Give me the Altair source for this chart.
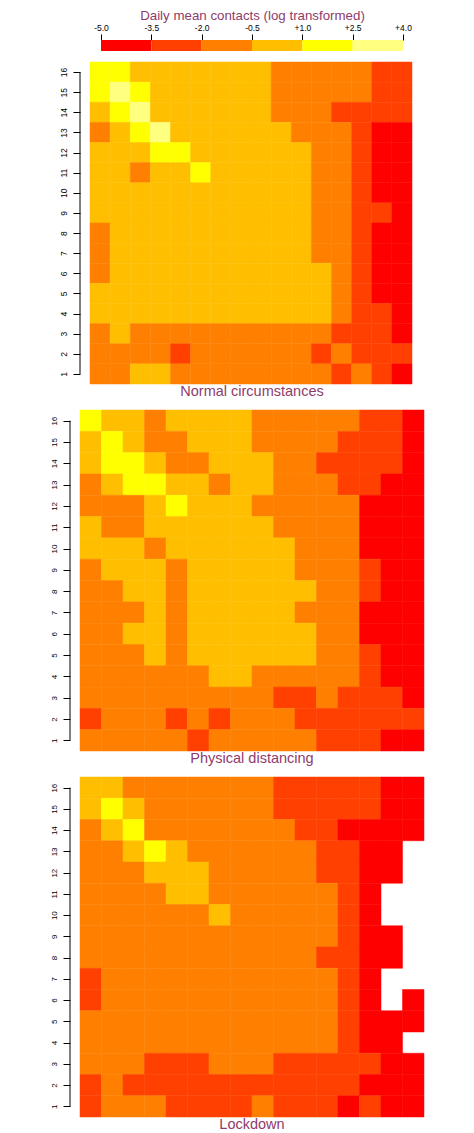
import altair as alt
import pandas as pd

# bin-level estimates of the log-transformed daily mean contacts
R, RO, O, G, Y, LY = -4.3, -2.8, -1.3, 0.3, 1.7, 3.2
NA = None

# rows listed from top (row 16) to bottom (row 1), columns 1..16
normal = [
    [Y, Y, G, G, G, G, G, G, G, O, O, O, O, O, RO, RO],
    [Y, LY, Y, G, G, G, G, G, G, O, O, O, O, O, RO, RO],
    [G, Y, LY, G, G, G, G, G, G, O, O, O, RO, RO, RO, RO],
    [O, G, Y, LY, G, G, G, G, G, G, O, O, O, RO, R, R],
    [G, G, G, Y, Y, G, G, G, G, G, G, O, O, RO, R, R],
    [G, G, O, G, G, Y, G, G, G, G, G, O, O, RO, R, R],
    [G, G, G, G, G, G, G, G, G, G, G, O, O, RO, R, R],
    [G, G, G, G, G, G, G, G, G, G, G, O, O, RO, RO, R],
    [O, G, G, G, G, G, G, G, G, G, G, O, O, RO, R, R],
    [O, G, G, G, G, G, G, G, G, G, G, O, O, RO, R, R],
    [O, G, G, G, G, G, G, G, G, G, G, G, O, RO, R, R],
    [G, G, G, G, G, G, G, G, G, G, G, G, O, RO, R, R],
    [G, G, G, G, G, G, G, G, G, G, G, G, O, RO, RO, R],
    [O, G, O, O, O, O, O, O, O, O, O, O, RO, RO, RO, R],
    [O, O, O, O, RO, O, O, O, O, O, O, RO, O, RO, RO, RO],
    [O, O, G, G, O, O, O, O, O, O, O, O, RO, O, RO, R],
]

physical = [
    [Y, G, G, O, G, G, G, G, O, O, O, O, O, RO, RO, R],
    [G, Y, G, O, O, G, G, G, O, O, O, O, RO, RO, RO, R],
    [G, Y, Y, G, O, O, G, G, G, O, O, RO, RO, RO, RO, R],
    [O, G, Y, Y, G, G, O, G, G, O, O, O, RO, RO, R, R],
    [O, O, O, G, Y, G, G, G, O, O, O, O, O, R, R, R],
    [G, O, O, G, G, G, G, G, G, O, O, O, O, R, R, R],
    [G, G, G, O, G, G, G, G, G, G, O, O, O, R, R, R],
    [O, G, G, G, O, G, G, G, G, G, O, O, O, RO, R, R],
    [O, O, G, G, O, G, G, G, G, G, G, O, O, RO, R, R],
    [O, O, O, G, O, G, G, G, G, G, O, O, O, R, R, R],
    [O, O, G, G, O, G, G, G, G, G, G, O, O, R, R, R],
    [O, O, O, G, O, G, G, G, G, G, G, O, O, RO, R, R],
    [O, O, O, O, O, O, G, G, O, O, O, O, O, RO, R, R],
    [O, O, O, O, O, O, O, O, O, RO, RO, O, RO, RO, RO, R],
    [RO, O, O, O, RO, O, RO, O, O, O, RO, RO, RO, RO, RO, RO],
    [O, O, O, O, O, RO, O, O, O, O, O, RO, RO, RO, R, R],
]

lockdown = [
    [G, G, O, O, O, O, O, O, O, RO, RO, RO, RO, RO, R, R],
    [G, Y, G, O, O, O, O, O, O, RO, RO, RO, RO, RO, R, R],
    [O, G, Y, O, O, O, O, O, O, O, RO, RO, R, R, R, R],
    [O, O, G, Y, G, O, O, O, O, O, O, RO, RO, R, R, NA],
    [O, O, O, G, G, G, O, O, O, O, O, RO, RO, R, R, NA],
    [O, O, O, O, G, G, O, O, O, O, O, O, RO, R, NA, NA],
    [O, O, O, O, O, O, G, O, O, O, O, O, RO, R, NA, NA],
    [O, O, O, O, O, O, O, O, O, O, O, O, RO, R, R, NA],
    [O, O, O, O, O, O, O, O, O, O, O, RO, RO, R, R, NA],
    [RO, O, O, O, O, O, O, O, O, O, O, O, RO, R, NA, NA],
    [RO, O, O, O, O, O, O, O, O, O, O, O, RO, R, NA, R],
    [O, O, O, O, O, O, O, O, O, O, O, O, RO, R, R, R],
    [O, O, O, O, O, O, O, O, O, O, O, O, RO, R, R, NA],
    [O, O, O, RO, RO, RO, O, O, O, RO, RO, RO, RO, RO, R, R],
    [RO, O, RO, RO, RO, RO, RO, RO, RO, RO, RO, RO, RO, R, R, R],
    [RO, O, O, O, RO, RO, RO, RO, O, RO, RO, RO, R, RO, R, R],
]

row_labels = list(range(16, 0, -1))
col_labels = list(range(1, 17))
y_ticks = list(range(1, 17))

legend_breaks = [-5.0, -3.5, -2.0, -0.5, 1.0, 2.5, 4.0]
heat_colors = ["#FF0000", "#FF4000", "#FF8000", "#FFBF00", "#FFFF00", "#FFFF80"]
panel_titles = ["Normal circumstances", "Physical distancing", "Lockdown"]
legend_title = "Daily mean contacts (log transformed)"

TITLE_COLOR = "#8E3B6B"
FONT = "Liberation Sans"

color_scale = alt.Scale(type="threshold", domain=legend_breaks[1:-1], range=heat_colors)


def to_long(matrix):
    recs = []
    for r, row in zip(row_labels, matrix):
        for c, v in zip(col_labels, row):
            if v is not None:
                recs.append({"row": r, "col": c, "value": v})
    return pd.DataFrame(recs)


def y_axis(label_size, offset):
    return alt.Axis(
        values=y_ticks, orient="left", offset=offset, domain=False,
        ticks=True, tickSize=7, tickColor="black", tickWidth=1,
        labelAngle=270, labelAlign="center", labelBaseline="bottom",
        labelPadding=5, labelFontSize=label_size, labelColor="black",
        labelFont=FONT, grid=False, title=None, labelFlush=False,
        labelOverlap=False,
    )


def panel(matrix, title, x_range, w, h, label_size, axis_offset, title_dx):
    x_scale = alt.Scale(domain=[0.5, 16.5], range=x_range, nice=False, zero=False)
    y_scale = alt.Scale(domain=[0.5, 16.5], nice=False, zero=False)
    cells = (
        alt.Chart(to_long(matrix))
        .transform_calculate(
            x0="datum.col - 0.5", x1="datum.col + 0.5",
            y0="datum.row - 0.5", y1="datum.row + 0.5",
        )
        .mark_rect(strokeWidth=0.5)
        .encode(
            x=alt.X("x0:Q", scale=x_scale, axis=None),
            x2="x1:Q",
            y=alt.Y("y0:Q", scale=y_scale, axis=y_axis(label_size, axis_offset)),
            y2="y1:Q",
            color=alt.Color("value:Q", scale=color_scale, legend=None),
            stroke=alt.Color("value:Q", scale=color_scale, legend=None),
        )
    )
    line_df = pd.DataFrame({"lo": [min(y_ticks)], "hi": [max(y_ticks)]})
    axis_line = (
        alt.Chart(line_df)
        .mark_rule(color="black", strokeWidth=1)
        .encode(
            y=alt.Y("lo:Q", scale=y_scale, axis=y_axis(label_size, axis_offset)),
            y2="hi:Q",
            x=alt.value(-axis_offset),
        )
    )
    return alt.layer(cells, axis_line).properties(
        width=w,
        height=h,
        title=alt.TitleParams(
            title, orient="bottom", anchor="middle", frame="group",
            fontSize=14.5, font=FONT, fontWeight="normal", color=TITLE_COLOR,
            offset=1, dx=title_dx,
        ),
    )


leg_df = pd.DataFrame({"lo": legend_breaks[:-1], "hi": legend_breaks[1:]})
legend = (
    alt.Chart(leg_df)
    .transform_calculate(mid="(datum.lo + datum.hi) / 2")
    .mark_rect(strokeWidth=0)
    .encode(
        x=alt.X(
            "lo:Q",
            scale=alt.Scale(domain=[legend_breaks[0], legend_breaks[-1]], range=[21, 323],
                            nice=False, zero=False),
            axis=alt.Axis(
                orient="top", values=legend_breaks, domain=False, grid=False,
                tickSize=6, tickColor="black", tickWidth=1,
                labelFontSize=8.5, labelColor="black", labelFont=FONT, labelPadding=2,
                labelExpr="(datum.value > 0 ? '+' : (datum.value < 0 ? '-' : '')) + format(abs(datum.value), '.1f')",
                labelFlush=False, labelOverlap=False,
                title=legend_title, titleFont=FONT, titleFontSize=13.3,
                titleFontWeight="normal", titleColor=TITLE_COLOR, titlePadding=1,
            ),
        ),
        x2="hi:Q",
        color=alt.Color("mid:Q", scale=color_scale, legend=None),
    )
    .properties(width=323, height=11)
)

p1 = panel(normal, panel_titles[0], [10, 332], 332, 322, 8.5, 0, 6)
p2 = panel(physical, panel_titles[1], [0, 344], 344, 341, 8, 10, 0)
p3 = panel(lockdown, panel_titles[2], [0, 344], 344, 340, 8, 10, 0)

chart = (
    alt.vconcat(legend, p1, p2, p3, spacing=10)
    .properties(padding={"left": 42, "top": 0, "right": 0, "bottom": 0})
    .configure_view(stroke=None)
)

chart.save("out.html", embed_options={"renderer": "svg", "actions": False})
